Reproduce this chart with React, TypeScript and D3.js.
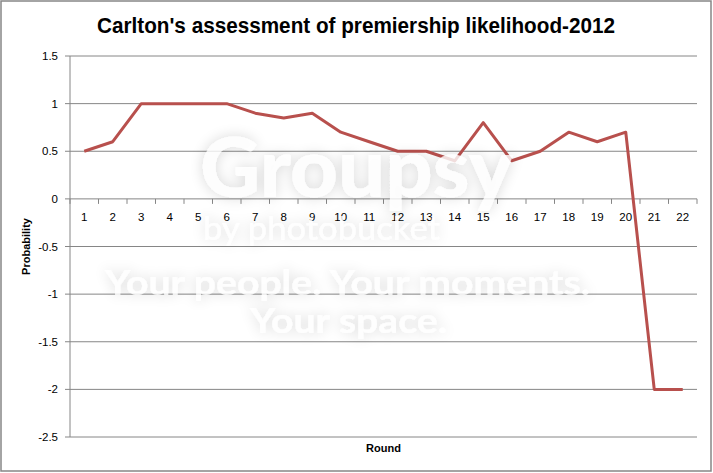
import React from "react";
import * as d3 from "d3";

const rounds = ["1","2","3","4","5","6","7","8","9","10","11","12","13","14","15","16","17","18","19","20","21","22"];
const probability = [0.5,0.6,1,1,1,1,0.9,0.85,0.9,0.7,0.6,0.5,0.5,0.4,0.8,0.4,0.5,0.7,0.6,0.7,-2,-2];
const yTicks = [1.5,1,0.5,0,-0.5,-1,-1.5,-2,-2.5];
const yTickLabels = ["1.5","1","0.5","0","-0.5","-1","-1.5","-2","-2.5"];

const W = 713, H = 473;
const left = 70, right = 697, top = 56, bottom = 437;
const grid = "#868686";
const lineColor = "#b8504d";
const font = "'Liberation Sans', Arial, sans-serif";

export default function App() {
  const x = d3.scaleBand<string>().domain(rounds).range([left, right]).padding(0);
  const y = d3.scaleLinear().domain([-2.5, 1.5]).range([bottom, top]);
  const line = d3.line<number>()
    .x((_, i) => (x(rounds[i]) as number) + x.bandwidth() / 2)
    .y((d) => y(d));
  const y0 = y(0);
  const boundaries = rounds.map((r) => x(r) as number).concat([right]);

  return (
    <svg width={W} height={H} style={{ position: "absolute", left: 0, top: 0, background: "#fff" }}>
      <defs>
        <filter id="wm" x="-20%" y="-50%" width="140%" height="200%">
          <feGaussianBlur in="SourceAlpha" stdDeviation="7" result="b" />
          <feComponentTransfer in="b" result="s">
            <feFuncA type="linear" slope="0.2" />
          </feComponentTransfer>
          <feMerge>
            <feMergeNode in="s" />
            <feMergeNode in="SourceGraphic" />
          </feMerge>
        </filter>
      </defs>
      <rect x={1} y={1} width={W - 3} height={H - 3} fill="#fff" stroke={grid} strokeWidth={1.5} />
      <text x={356} y={33} textAnchor="middle" fontFamily={font} fontWeight="bold" fontSize={22}
        textLength={518} lengthAdjust="spacingAndGlyphs" fill="#000">
        Carlton's assessment of premiership likelihood-2012
      </text>
      {yTicks.map((t, i) => (
        <g key={t}>
          <line x1={left - 5} x2={right} y1={y(t)} y2={y(t)} stroke={grid} strokeWidth={1} />
          <text x={58} y={y(t) + 4} textAnchor="end" fontFamily={font} fontSize={11.5} fill="#000">
            {yTickLabels[i]}
          </text>
        </g>
      ))}
      <line x1={left} x2={left} y1={top} y2={bottom} stroke={grid} strokeWidth={1} />
      {boundaries.map((b, i) => (
        <line key={i} x1={b} x2={b} y1={y0} y2={y0 + 5} stroke={grid} strokeWidth={1} />
      ))}
      {rounds.map((r) => (
        <text key={r} x={(x(r) as number) + x.bandwidth() / 2} y={y0 + 22} textAnchor="middle"
          fontFamily={font} fontSize={11.5} fill="#000">{r}</text>
      ))}
      <path d={line(probability) || ""} fill="none" stroke={lineColor} strokeWidth={3} strokeLinejoin="round" />
      <text transform={`translate(30,${(top + bottom) / 2}) rotate(-90)`} textAnchor="middle"
        fontFamily={font} fontWeight="bold" fontSize={11} fill="#000">Probability</text>
      <text x={(left + right) / 2} y={452} textAnchor="middle" fontFamily={font} fontWeight="bold"
        fontSize={11} fill="#000">Round</text>
      <g filter="url(#wm)" fill="#fff" fillOpacity={0.8} fontFamily="Lato, 'Open Sans', sans-serif" fontWeight="bold">
        <text x={200} y={197} fontSize={82} fontWeight={900} textLength={313} lengthAdjust="spacingAndGlyphs">Groupsy</text>
        <text x={203} y={240} fontSize={32} fontWeight="normal" textLength={237} lengthAdjust="spacingAndGlyphs">by photobucket</text>
        <text x={105} y={295} fontSize={34} textLength={485} lengthAdjust="spacingAndGlyphs">Your people. Your moments.</text>
        <text x={250} y={333} fontSize={34} textLength={197} lengthAdjust="spacingAndGlyphs">Your space.</text>
      </g>
    </svg>
  );
}
